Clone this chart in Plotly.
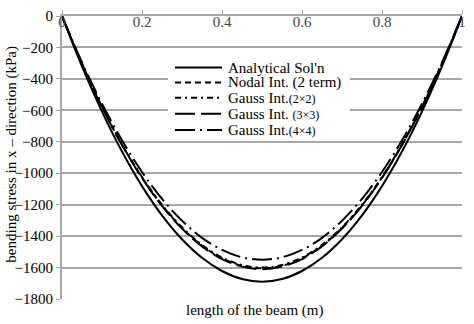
import plotly.graph_objects as go

x = [0, 0.05, 0.1, 0.15, 0.2, 0.25, 0.3, 0.35, 0.4, 0.45, 0.5,
     0.55, 0.6, 0.65, 0.7, 0.75, 0.8, 0.85, 0.9, 0.95, 1.0]
analytical = [0, -321, -608, -862, -1082, -1268, -1420, -1538, -1622, -1673, -1690,
              -1673, -1622, -1538, -1420, -1268, -1082, -862, -608, -321, 0]
nodal = [0, -305, -578, -819, -1027, -1204, -1348, -1461, -1541, -1589, -1605,
         -1589, -1541, -1461, -1348, -1204, -1027, -819, -578, -305, 0]
gauss2 = [0, -304, -576, -816, -1024, -1200, -1344, -1456, -1536, -1584, -1600,
          -1584, -1536, -1456, -1344, -1200, -1024, -816, -576, -304, 0]
gauss3 = [0, -306, -580, -821, -1030, -1208, -1352, -1465, -1546, -1594, -1610,
          -1594, -1546, -1465, -1352, -1208, -1030, -821, -580, -306, 0]
gauss4 = [0, -295, -558, -791, -992, -1163, -1302, -1411, -1488, -1535, -1550,
          -1535, -1488, -1411, -1302, -1163, -992, -791, -558, -295, 0]

x_ticks = [0, 0.2, 0.4, 0.6, 0.8, 1]
x_ticklabels = ["0", "0.2", "0.4", "0.6", "0.8", "1"]
y_ticks = [0, -200, -400, -600, -800, -1000, -1200, -1400, -1600, -1800]
y_ticklabels = ["0", "−200", "−400", "−600", "−800", "−1000", "−1200", "−1400", "−1600", "−1800"]

series_names = [
    "Analytical Sol'n",
    "Nodal Int. (2 term)",
    "Gauss Int.<span style='font-size:12px'>(2×2)</span>",
    "Gauss Int. <span style='font-size:12px'>(3×3)</span>",
    "Gauss Int.<span style='font-size:12px'>(4×4)</span>",
]
series_values = [analytical, nodal, gauss2, gauss3, gauss4]
series_dashes = ["solid", "6px,4px", "6px,4px,2px,4px", "20px,6px", "20px,5px,2px,5px"]

FONT = "Liberation Serif"
GRID = "#a3a9a9"

fig = go.Figure()
for name, ys, dash in zip(series_names, series_values, series_dashes):
    fig.add_trace(go.Scatter(x=x, y=ys, name=name, mode="lines", showlegend=False,
                             line=dict(color="black", width=2, dash=dash, shape="spline")))

# manual legend (white box, key lines, labels) in paper coordinates
fig.add_shape(type="rect", xref="paper", yref="paper", x0=0.265, x1=0.72, y0=0.567, y1=0.869,
              fillcolor="white", line=dict(width=0), layer="above")
legend_y = [0.818, 0.765, 0.711, 0.655, 0.597]
for name, dash, ly in zip(series_names, series_dashes, legend_y):
    fig.add_shape(type="line", xref="paper", yref="paper", x0=0.2825, x1=0.40, y0=ly, y1=ly,
                  line=dict(color="black", width=2, dash=dash), layer="above")
    fig.add_annotation(text=name, xref="paper", yref="paper", x=0.41, y=ly,
                       xanchor="left", yanchor="middle", showarrow=False,
                       font=dict(family=FONT, size=15, color="black"))

fig.update_layout(
    width=474, height=324,
    margin=dict(l=62, r=12, t=8, b=25),
    paper_bgcolor="white", plot_bgcolor="white",
    font=dict(family=FONT, size=15, color="black"),
    showlegend=False,
    xaxis=dict(range=[0, 1], side="top", ticklabelposition="inside",
               ticklabeloverflow="allow",
               tickvals=x_ticks, ticktext=x_ticklabels,
               showgrid=False, zeroline=False,
               showline=True, linecolor=GRID, linewidth=2,
               ticks="outside", ticklen=4, tickcolor=GRID,
               tickfont=dict(family=FONT, size=15)),
    yaxis=dict(range=[-1800, 0], tickvals=y_ticks, ticktext=y_ticklabels,
               ticklabeloverflow="allow",
               showgrid=True, gridcolor=GRID, gridwidth=2, zeroline=False,
               showline=True, linecolor=GRID, linewidth=2,
               ticks="outside", ticklen=4, tickcolor=GRID,
               tickfont=dict(family=FONT, size=15)),
)
fig.add_annotation(text="bending stress in x – direction (kPa)", xref="paper", yref="paper",
                   x=-0.125, y=0.51, xanchor="center", yanchor="middle", textangle=-90,
                   showarrow=False, font=dict(family=FONT, size=15))
fig.add_annotation(text="length of the beam (m)", xref="paper", yref="paper",
                   x=0.48, y=-0.04, xanchor="center", yanchor="middle",
                   showarrow=False, font=dict(family=FONT, size=15))

fig.write_html("out.html")
